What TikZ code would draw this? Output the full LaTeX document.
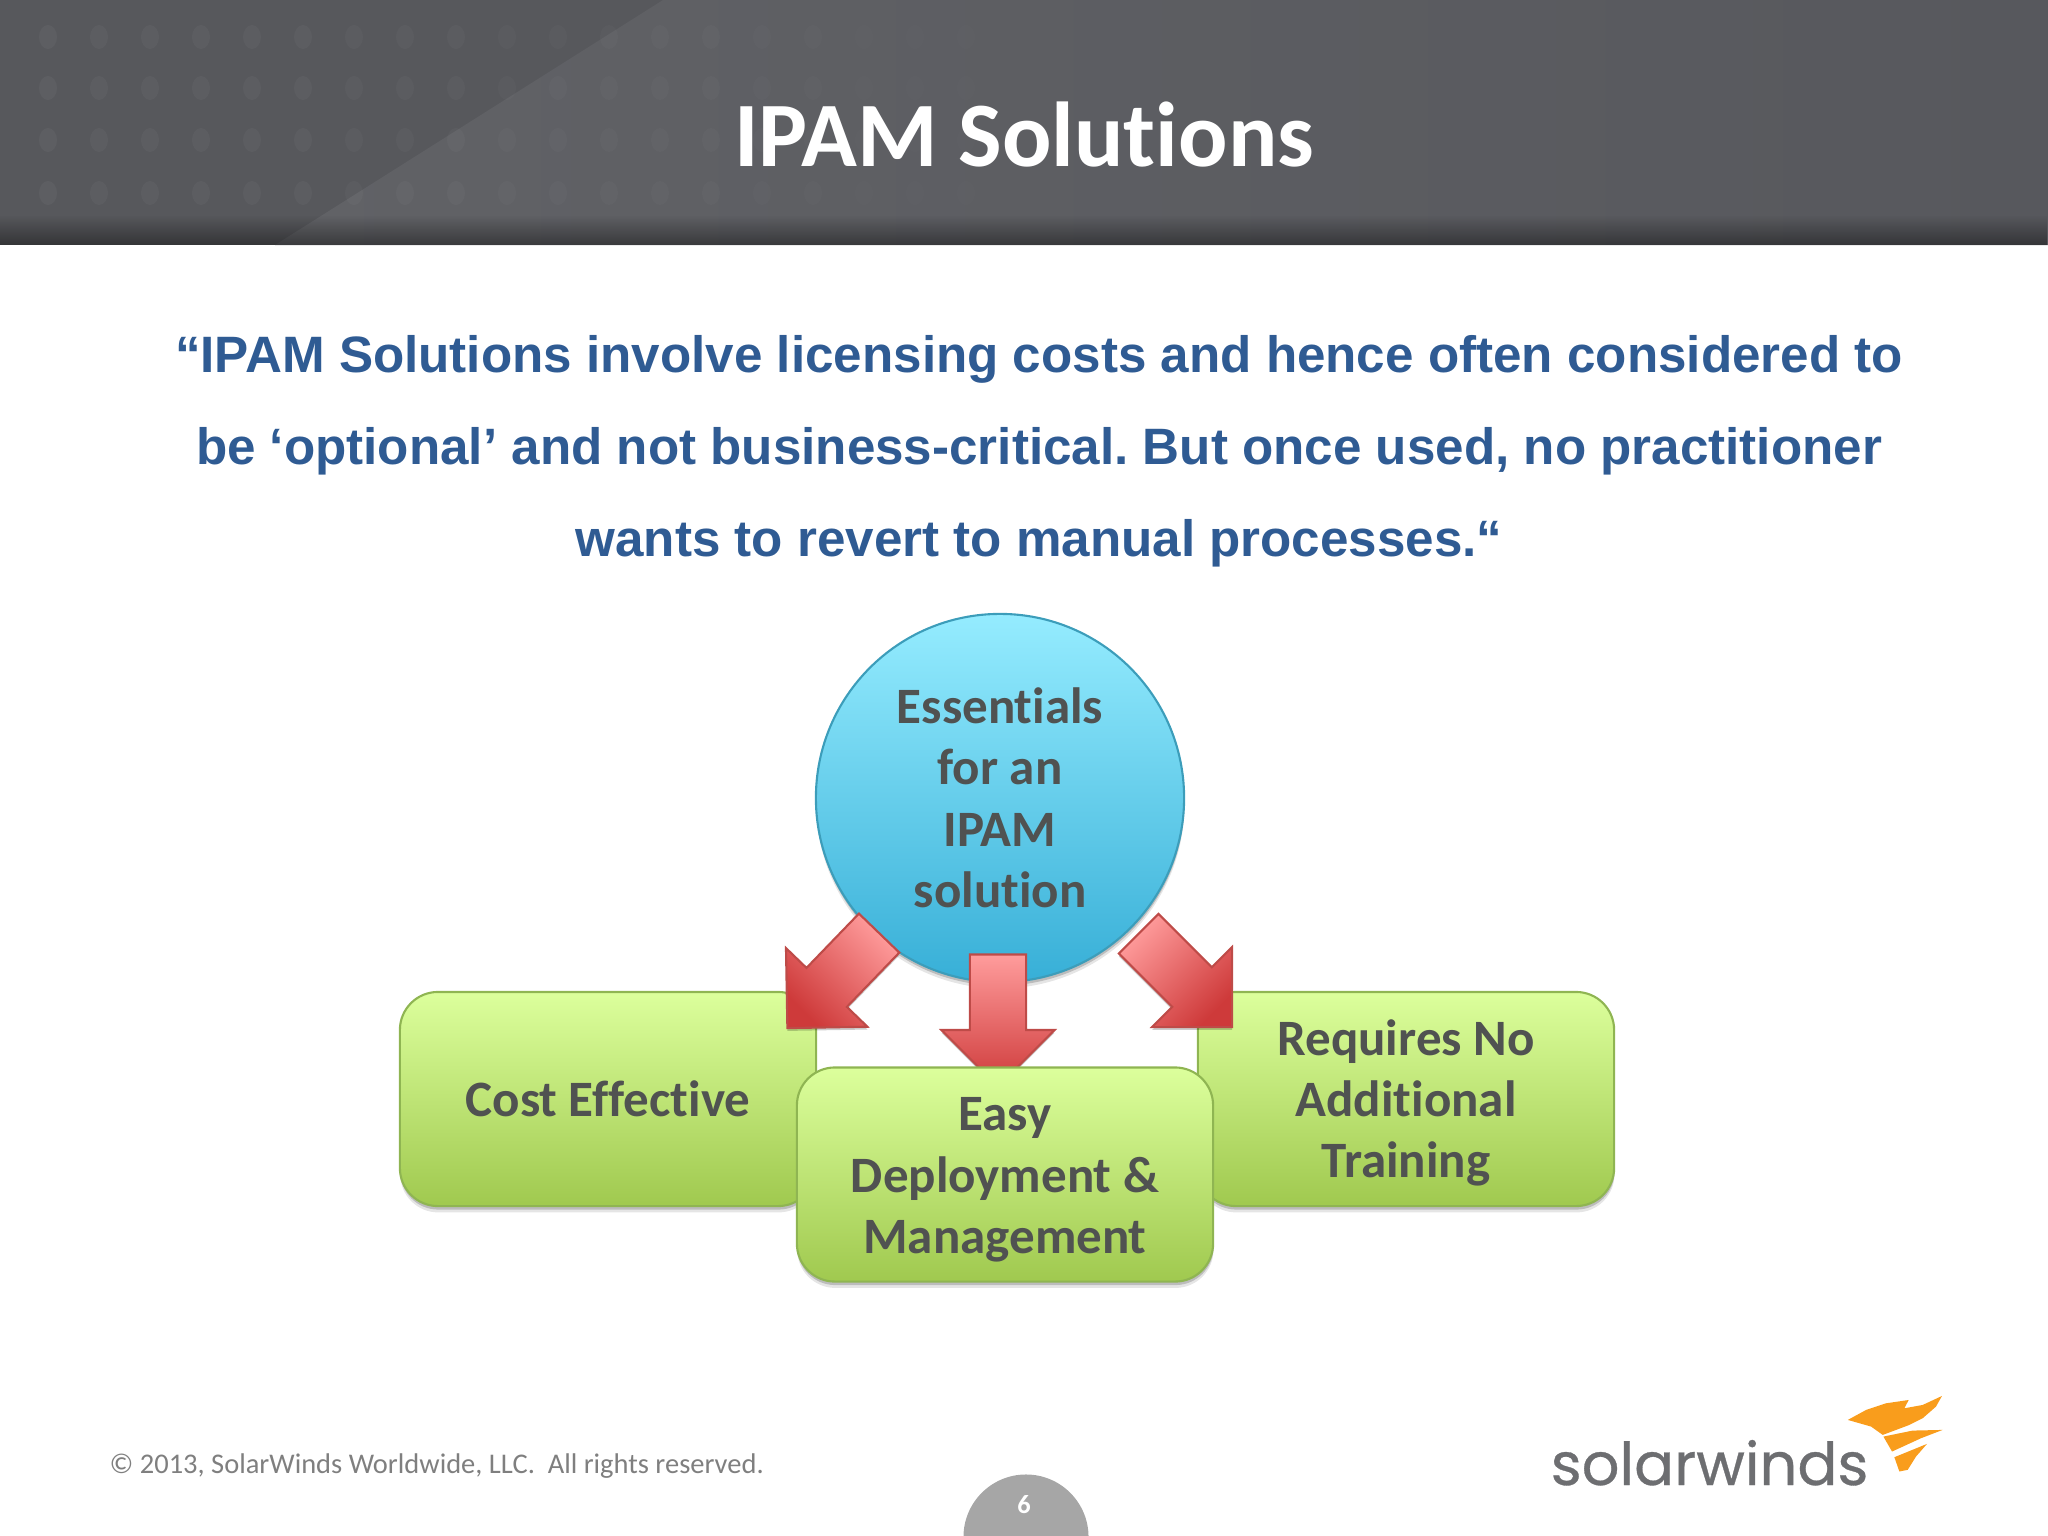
\documentclass[tikz,border=0pt]{standalone}
\usepackage{fontspec}
\setmainfont{Carlito}[Ligatures={TeX,NoCommon}]
\newfontfamily\quoteFont{Liberation Sans}
\newfontfamily\logoFont{Poppins}[FakeBold=0.5]
\usetikzlibrary{shadows, fadings, shapes.arrows}
\definecolor{headDark}{HTML}{57585C}
\definecolor{headLight}{HTML}{616266}
\definecolor{headRight}{HTML}{57585D}
\definecolor{quoteBlue}{HTML}{2F5B93}
\definecolor{textGray}{HTML}{505251}
\definecolor{footGray}{HTML}{7F7F7F}
\definecolor{logoGray}{HTML}{6D6E71}
\definecolor{logoOrange}{HTML}{F99D1C}
\newcommand{\topStrut}{\rule{0pt}{12.4pt}}
\tikzset{
  softShadow/.style={
    drop shadow={shadow xshift=0.1pt, shadow yshift=-1.8pt, opacity=0.1, fill=black},
    drop shadow={shadow xshift=0.1pt, shadow yshift=-1pt, opacity=0.18, fill=black}},
  % --- caixas verdes ---
  greenBox/.style={rectangle, rounded corners=0.38cm, minimum width=4.16cm, minimum height=2.14cm,
    inner sep=0pt, align=center, top color=green1, bottom color=green2, draw=greenEdge, line width=0.6pt,
    softShadow, text=textGray, font=\fontsize{14.5}{17.47}\selectfont\bfseries},
  rootCircle/.style={circle, minimum size=3.68cm, inner sep=0pt, align=center, top color=blue1, bottom color=blue2,
    draw=blueEdge, line width=0.6pt, softShadow, text=textGray, font=\fontsize{14.5}{17.47}\selectfont\bfseries},
  % --- setas vermelhas ---
  blockArrow/.style={single arrow, minimum height=1.32cm, minimum width=1.11cm, inner xsep=0pt, inner ysep=0.27cm,
    single arrow head extend=0.285cm, single arrow tip angle=90, top color=red1, bottom color=red2,
    draw=redEdge, line width=0.6pt,
    drop shadow={shadow xshift=0pt, shadow yshift=-0.8pt, opacity=0.2, fill=black}},
  dotBase/.style={white}
}
\definecolor{green1}{HTML}{DCFF9C}
\definecolor{green2}{HTML}{A0C94F}
\definecolor{greenEdge}{HTML}{8FB552}
\definecolor{blue1}{HTML}{95ECFF}
\definecolor{blue2}{HTML}{37AFD7}
\definecolor{blueEdge}{HTML}{3C9DBA}
\definecolor{red1}{HTML}{FF9C9C}
\definecolor{red2}{HTML}{CE3A3A}
\definecolor{redEdge}{HTML}{BE4B48}
\begin{document}
\frenchspacing
\begin{tikzpicture}[x=0.01cm, y=-0.01cm]
  \useasboundingbox (0,0) rectangle (2048,1536);

  %% --- FAIXA DO TITULO ---
  \fill[headDark] (0,0) rectangle (2048,245);
  \shade[left color=headLight, right color=headRight] (663,0) -- (275,245) -- (2048,245) -- (2048,0) -- cycle;
  % Pontos do fundo
  \foreach \x in {48, 99, ..., 1000} {
    \foreach \y in {37, 88, 140, 193} {
      \pgfmathsetmacro{\dotAlpha}{max(0.01, 0.04 - \x*0.00003)}
      \fill[dotBase, opacity=\dotAlpha] (\x,\y) circle[x radius=9, y radius=12];
    }
  }
  \fill[black, opacity=0.4, path fading=north] (0,215) rectangle (2048,245);
  \node[text=white, font=\fontsize{26.2}{30}\selectfont\bfseries] (titleText) at (1024,135) {IPAM Solutions};

  %% --- CITACAO ---
  \node[text=quoteBlue, align=center, font=\quoteFont\fontsize{14.55}{26.17}\selectfont\bfseries] (quoteText) at (1039,451.5)
    {“IPAM Solutions involve licensing costs and hence often considered to\\
     be ‘optional’ and not business-critical. But once used, no practitioner\\
     wants to revert to manual processes.“};

  %% --- DIAGRAMA ---
  \node[greenBox] (costBox) at (608,1099) {Cost Effective};
  \node[greenBox] (trainBox) at (1406,1099) {\topStrut Requires No\\Additional\\Training};
  \node[rootCircle] (rootNode) at (1000,798) {Essentials\\for an\\IPAM\\solution};

  % Setas saindo do circulo
  \node[blockArrow, rotate=-134, shading angle=-45] (arrowCost) at (843,970.5) {};
  \node[blockArrow, rotate=-90] (arrowEasy) at (998,1006.5) {};
  \node[blockArrow, rotate=-45, shading angle=45] (arrowTrain) at (1175.5,970.5) {};

  \node[greenBox] (easyBox) at (1005,1174.5) {\topStrut Easy\\Deployment \&\\Management};

  %% --- RODAPE ---
  \node[text=footGray, anchor=west, inner sep=0pt, font=\fontsize{8.1}{10}\selectfont] (footText) at (109,1466)
    {© 2013, SolarWinds Worldwide, LLC.\ \ All rights reserved.};
  \node[circle, fill=black!35, minimum size=1.25cm, inner sep=0pt] (pageCircle) at (1026,1537) {};
  \node[text=white, font=\fontsize{7.5}{9}\selectfont\bfseries] (pageText) at (1024,1505) {6};

  % Logotipo
  \node[text=logoGray, anchor=base west, inner sep=0pt, font=\logoFont\fontsize{16.85}{20}\selectfont] (logoText) at (1550,1485) {solarwinds};
  \begin{scope}[shift={(1500,1370)}, x=0.00333cm, y=-0.00333cm]
    \fill[logoOrange] (1045,150) -- (1100,120) -- (1160,100) -- (1228,90) -- (1215,115) -- (1270,105) -- (1328,78)
      -- (1310,110) -- (1270,145) -- (1230,165) -- (1150,195) -- (1115,170) -- cycle;
    \fill[logoOrange] (1152,200) -- (1240,182) -- (1330,180) -- (1265,205) -- (1178,245) -- cycle;
    \fill[logoOrange] (1185,262) -- (1283,222) -- (1250,260) -- (1225,300) -- (1200,305) -- cycle;
  \end{scope}
\end{tikzpicture}
\end{document}
